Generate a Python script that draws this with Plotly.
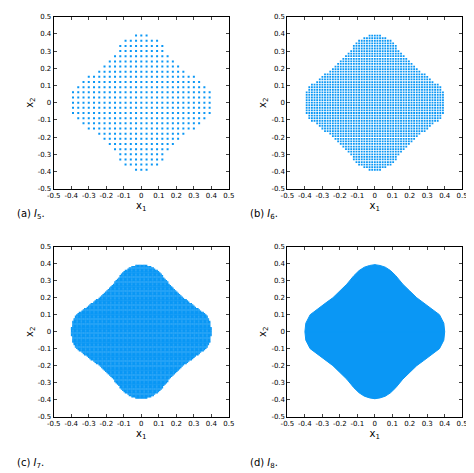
import numpy as np
import plotly.graph_objects as go

# half-width of the region (x1 extent) as a function of |x2|
prof_y = [0.0, 0.05, 0.1, 0.13, 0.17, 0.2, 0.24, 0.28, 0.33, 0.36, 0.38, 0.39, 0.395]
prof_w = [0.40, 0.395, 0.37, 0.33, 0.28, 0.24, 0.20, 0.16, 0.12, 0.09, 0.06, 0.03, 0.0]

steps = [0.03, 0.015, 0.0075]
sizes = [2.0, 1.8, 1.6]
captions = ["(a) <i>I</i><sub>5</sub>.", "(b) <i>I</i><sub>6</sub>.",
            "(c) <i>I</i><sub>7</sub>.", "(d) <i>I</i><sub>8</sub>."]
ticks = [-0.5, -0.4, -0.3, -0.2, -0.1, 0, 0.1, 0.2, 0.3, 0.4, 0.5]
tick_text = ["-0.5", "-0.4", "-0.3", "-0.2", "-0.1", "0", "0.1", "0.2", "0.3", "0.4", "0.5"]

color = "#0a97f5"
xdoms = [[0.084, 0.464], [0.591, 0.970]]
ydoms = [[0.62, 0.99], [0.13, 0.495]]
cap_y = [0.565, 0.028]

fig = go.Figure()


def grid_points(h):
    n = int(round(0.42 / h))
    g = np.arange(-n, n + 1) * h
    xs, ys = [], []
    for y in g:
        w = np.interp(abs(y), prof_y, prof_w, right=-1)
        for x in g:
            if abs(x) <= w:
                xs.append(x)
                ys.append(y)
    return xs, ys


for i in range(4):
    r, c = divmod(i, 2)
    ax = "" if i == 0 else str(i + 1)
    if i < 3:
        xs, ys = grid_points(steps[i])
        fig.add_trace(go.Scatter(x=xs, y=ys, mode="markers", xaxis="x" + ax, yaxis="y" + ax,
                                 marker=dict(size=sizes[i], color=color, symbol="square"),
                                 showlegend=False))
    else:
        yy = list(prof_y) + [-v for v in prof_y[::-1]]
        ww = list(prof_w) + list(prof_w[::-1])
        bx = ww + [-v for v in ww[::-1]]
        by = yy + yy[::-1]
        fig.add_trace(go.Scatter(x=bx, y=by, mode="lines", fill="toself", xaxis="x" + ax,
                                 yaxis="y" + ax, line=dict(color=color, width=1),
                                 fillcolor=color, showlegend=False))
    common = dict(range=[-0.5, 0.5], tickvals=ticks, ticktext=tick_text, showgrid=False,
                  zeroline=False, showline=True, mirror="ticks", linecolor="black",
                  linewidth=1, ticks="inside", ticklen=3, tickfont=dict(size=7), tickangle=0)
    fig.layout["xaxis" + ax] = dict(common, domain=xdoms[c], anchor="y" + ax,
                                    title=dict(text="x<sub>1</sub>", font=dict(size=10), standoff=0))
    fig.layout["yaxis" + ax] = dict(common, domain=ydoms[r], anchor="x" + ax,
                                    title=dict(text="x<sub>2</sub>", font=dict(size=10), standoff=2))
    fig.add_annotation(text=captions[i], xref="paper", yref="paper", x=xdoms[c][0] - 0.085,
                       y=cap_y[r], xanchor="left", yanchor="middle",
                       showarrow=False, font=dict(size=10))

fig.update_layout(width=474, height=473, margin=dict(l=0, r=0, t=0, b=0),
                  plot_bgcolor="white", paper_bgcolor="white",
                  font=dict(family="DejaVu Sans", color="black"))
fig.write_html("out.html")
